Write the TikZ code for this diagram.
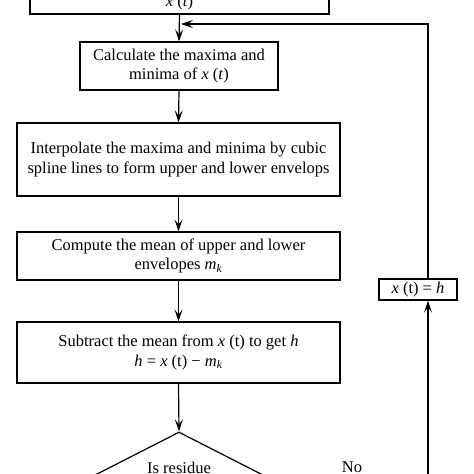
\documentclass[tikz,border=0pt]{standalone}
\usepackage{fontspec}
\setmainfont{Liberation Serif}
\usetikzlibrary{arrows.meta,shapes.geometric}
\newcommand{\mysub}{\textit{m}\textsubscript{\textit{k}}}
\begin{document}
\begin{tikzpicture}[x=1pt,y=-1pt,
  box/.style={draw, line width=1.2pt, inner sep=0pt, align=center, font=\fontsize{16.5}{19.5}\selectfont},
  txt/.style={inner sep=0pt, align=center, font=\fontsize{16.5}{19.5}\selectfont},
  arr/.style={line width=1.2pt, -{Stealth[length=12pt,width=8pt,inset=5pt]}},
  ln/.style={line width=1.2pt}]
\useasboundingbox (0,0) rectangle (474,474);
\fill[white] (0,0) rectangle (474,474);
\clip (0,0) rectangle (474,474);
\node[box, minimum width=299pt, minimum height=60pt] (top) at (179.5,-16) {};
\node[txt] (toptext) at (179.5,3) {\textit{x} (\textit{t})};
\node[box, minimum width=198pt, minimum height=48pt] (calc) at (179,66)
  {Calculate the maxima and\\minima of \textit{x} (\textit{t})};
\node[box, minimum width=323pt, minimum height=73pt] (interp) at (178.5,159.5)
  {Interpolate the maxima and minima by cubic\\spline lines to form upper and lower envelops};
\node[box, minimum width=323pt, minimum height=48pt] (comp) at (178.5,256)
  {Compute the mean of upper and lower\\envelopes \mysub};
\node[box, minimum width=323pt, minimum height=61pt] (sub) at (178.5,352.5)
  {Subtract the mean from \textit{x} (t) to get \textit{h}\\\textit{h} = \textit{x} (t) − \mysub};
\node[draw, ln, diamond, shape aspect=1.96, minimum width=188pt, minimum height=96pt, inner sep=0pt] (dec) at (179,480) {};
\node[txt] (dectext) at (179,468) {Is residue};
\node[box, minimum width=78pt, minimum height=21pt] (xth) at (418,289.5) {\textit{x} (t) = \textit{h}};
\node[txt] (no) at (352,467) {No};
\coordinate (fbbot) at (428,480);
\coordinate (fbtop) at (428,24);
\coordinate (fbend) at (181,24);
\draw[arr] (top.south) -- (calc.north);
\draw[arr] (calc.south) -- (interp.north);
\draw[arr] (interp.south) -- (comp.north);
\draw[arr] (comp.south) -- (sub.north);
\draw[arr] (sub.south) -- (dec.north);
\draw[ln] (dec.east) -- (fbbot);
\draw[arr] (fbbot) -- (fbbot |- xth.south);
\draw[arr] (fbbot |- xth.north) -- (fbtop) -- (fbend);
\end{tikzpicture}
\end{document}
